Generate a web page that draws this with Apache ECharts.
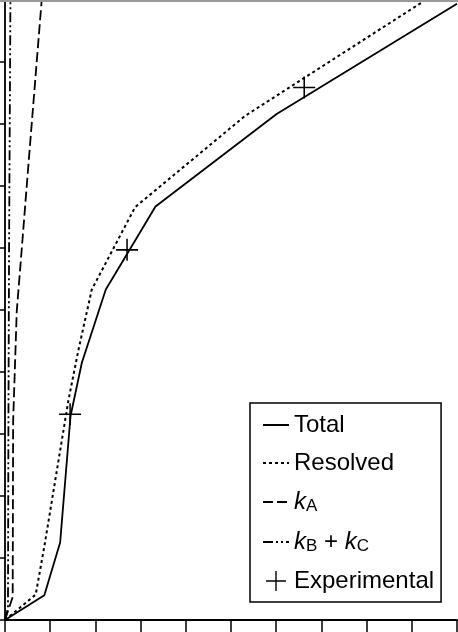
<!DOCTYPE html>
<html><head><meta charset="utf-8">
<script src="https://cdn.jsdelivr.net/npm/echarts@6/dist/echarts.min.js"></script>
<style>html,body{margin:0;padding:0;background:#fff}#c{width:458px;height:632px}</style>
</head><body><div id="c"></div><script>
// ---- data (axis units) ----
const totalData = [[0,0],[0.87,0.40],[1.22,1.25],[1.45,3.29],[1.70,4.15],[2.23,5.33],[3.33,6.67],[6.01,8.16],[10.0,9.94]];
const resolvedData = [[0,0],[0.68,0.41],[0.885,1.25],[1.40,3.53],[1.62,4.34],[1.92,5.33],[2.88,6.66],[5.31,8.13],[9.22,9.96],[10,10.32]];
const kAData = [[0,0],[0.17,0.37],[0.18,3.2],[0.26,4.98],[0.37,5.98],[0.53,7.45],[0.81,9.98],[0.83,10.2]];
const kBCData = [[0,0],[0.066,0.2],[0.075,3.0],[0.09,6.0],[0.12,10.0],[0.122,10.2]];
const expData = [[1.44,3.32],[2.70,5.97],[6.62,8.59]];
const xTicks = {min:0, max:10, step:1};
const yTicks = {min:0, max:10, step:1};
const legendNames = ['Total','Resolved','kA','kBC','Experimental'];
const legendLabels = {Total:'{t|Total}', Resolved:'{t|Resolved}', kA:'{i|k}{s|A}', kBC:'{i|k}{s|B}{t| + }{i|k}{s|C}', Experimental:'{t|Experimental}'};

const F = '"Liberation Sans", Arial, Helvetica, sans-serif';
const chart = echarts.init(document.getElementById('c'));
const axisCommon = {
  type:'value', axisLabel:{show:false}, splitLine:{show:false},
  axisLine:{lineStyle:{color:'#000', width:1.8}},
};
const crossPath = 'path://M0,9.3H20V10.7H0Z M9.3,0H10.7V20H9.3Z';
const hideSym = {color:'rgba(0,0,0,0)', borderWidth:0, opacity:0};
chart.setOption({
  animation:false,
  backgroundColor:'#fff',
  grid:{left:5, right:1, top:0, bottom:12},
  xAxis:Object.assign({}, axisCommon, {min:xTicks.min, max:xTicks.max, interval:xTicks.step,
    axisTick:{show:true, length:12, lineStyle:{color:'#000', width:1.5}}}),
  yAxis:Object.assign({}, axisCommon, {min:yTicks.min, max:yTicks.max, interval:yTicks.step,
    axisTick:{show:true, length:5, lineStyle:{color:'#000', width:1.5}}}),
  legend:{
    orient:'vertical', left:250, top:403, padding:[10,7,9,12],
    itemWidth:26, itemHeight:20, itemGap:14,
    borderColor:'#000', borderWidth:1.5, backgroundColor:'#fff',
    data:[
      {name:'Total', itemStyle:hideSym},
      {name:'Resolved', itemStyle:hideSym},
      {name:'kA', itemStyle:hideSym},
      {name:'kBC', itemStyle:hideSym},
      {name:'Experimental'}
    ],
    formatter:n=>legendLabels[n],
    textStyle:{fontFamily:F, fontSize:24, color:'#000', lineHeight:20,
      rich:{
        t:{fontFamily:F, fontSize:24, color:'#000', lineHeight:20},
        i:{fontFamily:F, fontSize:24, fontStyle:'italic', color:'#000', lineHeight:20},
        s:{fontFamily:F, fontSize:17, color:'#000', lineHeight:10, padding:[9,0,0,0]}
      }}
  },
  graphic:[{type:'rect', shape:{x:0,y:0,width:458,height:2}, style:{fill:'#9a9a9a'}, z:100}],
  series:[
    {name:'Total', type:'line', data:totalData, symbol:'none', lineStyle:{color:'#000', width:1.8, type:'solid'}, itemStyle:{color:'#000'}},
    {name:'Resolved', type:'line', data:resolvedData, symbol:'none', lineStyle:{color:'#000', width:2, type:[3,3]}, itemStyle:{color:'#000'}},
    {name:'kA', type:'line', data:kAData, symbol:'none', lineStyle:{color:'#000', width:1.8, type:[10,4]}, itemStyle:{color:'#000'}},
    {name:'kBC', type:'line', data:kBCData, symbol:'none', lineStyle:{color:'#000', width:1.8, type:[10,3,2,3,2,3]}, itemStyle:{color:'#000'}},
    {name:'Experimental', type:'scatter', data:expData, symbol:crossPath, symbolSize:22, symbolKeepAspect:true, itemStyle:{color:'#000', opacity:1}, z:5}
  ]
});
</script></body></html>
